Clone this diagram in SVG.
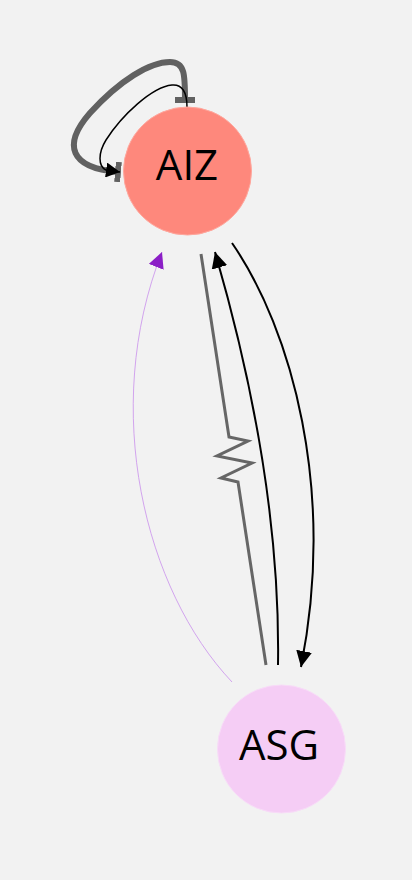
<svg xmlns="http://www.w3.org/2000/svg" width="412" height="880" viewBox="0 0 412 880">
<style>
.node text{font-family:"Open Sans","Noto Sans",sans-serif;font-size:42px;fill:#000;text-anchor:middle}
.e{fill:none}
</style>
<defs>
<marker id="arrowK" markerUnits="userSpaceOnUse" markerWidth="16" markerHeight="16" refX="16" refY="8" orient="auto" viewBox="0 0 16 16">
<path d="M0,0 L16,8 L0,16 z" fill="#000"/>
</marker>
<marker id="arrowS" markerUnits="userSpaceOnUse" markerWidth="14" markerHeight="15" refX="14" refY="7.5" orient="auto" viewBox="0 0 14 15">
<path d="M0,0 L14,7.5 L0,15 z" fill="#000"/>
</marker>
<marker id="arrowP" markerUnits="userSpaceOnUse" markerWidth="16" markerHeight="16" refX="16" refY="8" orient="auto" viewBox="0 0 16 16">
<path d="M0,0 L16,8 L0,16 z" fill="#8b1ec6"/>
</marker>
<marker id="tee" markerUnits="userSpaceOnUse" markerWidth="6" markerHeight="20" refX="3" refY="10" orient="auto-start-reverse" viewBox="0 0 6 20">
<rect x="0" y="0" width="6" height="20" fill="#616161"/>
</marker>
</defs>
<rect width="412" height="880" fill="#f2f2f2"/>
<g id="edges">
<path class="e" d="M118,172 C70,168 62,145 90,113 C120,80 150,62 170,62 C185,62 185,75 185,100" stroke="#616161" stroke-width="6" marker-start="url(#tee)" marker-end="url(#tee)"/>
<path class="e" d="M187,107 C187,92 182,84 172,85 C152,87 122,115 106,140 C98,153 98,166 106,170 L120,172" stroke="#000" stroke-width="1.5" marker-end="url(#arrowS)"/>
<polyline class="e" points="201,254 229,437 248,441 217,456 252,463 221,478 238,482 266,665" stroke="#666" stroke-width="3"/>
<path class="e" d="M278,665 C280,540 258,400 215,252" stroke="#000" stroke-width="2" marker-end="url(#arrowK)"/>
<path class="e" d="M232,243 C292,330 336,490 301,667" stroke="#000" stroke-width="2" marker-end="url(#arrowK)"/>
<path class="e" d="M232,682 C145,590 100,410 162,252" stroke="#d2a4ee" stroke-width="1" marker-end="url(#arrowP)"/>
</g>
<g id="AIZ" class="node">
<circle cx="187.5" cy="171" r="64" fill="#fe887c" stroke="#ffa79d" stroke-width="1"/>
<text x="187" y="180">AIZ</text>
</g>
<g id="ASG" class="node">
<circle cx="281.5" cy="749" r="64" fill="#f5cdf5" stroke="#f8dcf8" stroke-width="1"/>
<text x="279" y="760">ASG</text>
</g>
</svg>
